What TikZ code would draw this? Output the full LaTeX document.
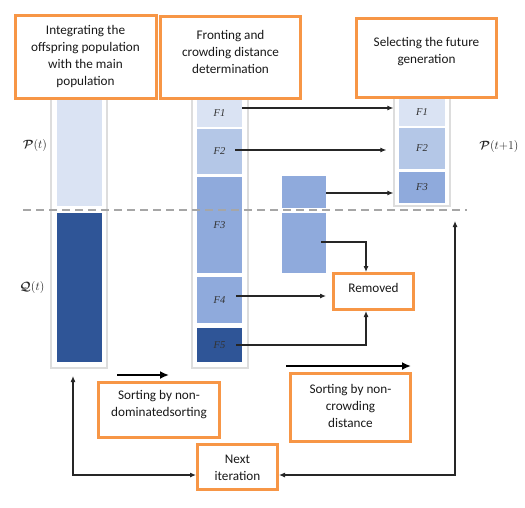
\documentclass[tikz,border=0pt]{standalone}
\usepackage{amsmath}
\usepackage{fontspec}
\setmainfont{Carlito}
\newfontfamily\flabfont{Liberation Serif}
\usetikzlibrary{arrows.meta,calc}
\definecolor{oran}{HTML}{F79646}
\definecolor{blA}{HTML}{DAE3F3}
\definecolor{blB}{HTML}{B4C7E7}
\definecolor{blC}{HTML}{8FAADC}
\definecolor{blD}{HTML}{2F5597}
\definecolor{frm}{HTML}{DDDDDD}
\definecolor{dashg}{HTML}{A6A6A6}
\definecolor{arrc}{HTML}{262626}
\definecolor{labc}{HTML}{333333}
\tikzset{
  obox/.style={draw=oran, line width=3pt, fill=white, inner sep=0pt},
  btext/.style={align=center, font=\fontsize{13.2}{17}\selectfont, text=black!90, inner sep=0pt},
  colframe/.style={draw=frm, line width=1.2pt, fill=white, inner sep=0pt},
  blk/.style={inner sep=0pt, draw=none, font=\flabfont\itshape\fontsize{10.5}{11}\selectfont, text=labc},
  arr/.style={draw=arrc, line width=1.1pt, -{Latex[length=6pt,width=5pt]}},
  arrb/.style={draw=arrc, line width=1.1pt, {Latex[length=6pt,width=5pt]}-{Latex[length=6pt,width=5pt]}},
  thick arr/.style={draw=black, line width=2.5pt, -{Latex[length=9pt,width=8pt]}},
  plab/.style={font=\fontsize{12}{12}\selectfont, text=black!85, inner sep=0pt}
}
\begin{document}
\begin{tikzpicture}[x=1pt,y=-1pt]
\useasboundingbox (0,0) rectangle (525,507);
% column frames
\node[colframe, minimum width=56pt, minimum height=273pt] (c1frame) at (79,231.5) {};
\node[colframe, minimum width=56pt, minimum height=273pt] (c2frame) at (220,231.5) {};
\node[colframe, minimum width=56pt, minimum height=111pt] (c3frame) at (422,150.5) {};
% column 1
\node[blk, fill=blA, minimum width=45pt, minimum height=107pt] (c1p) at (79.5,152.5) {};
\node[blk, fill=blD, minimum width=45pt, minimum height=149pt] (c1q) at (79.5,287.5) {};
% column 2
\node[blk, fill=blA, minimum width=45pt, minimum height=27pt] (c2f1) at (219.5,113.5) {F1};
\node[blk, fill=blB, minimum width=45pt, minimum height=45pt] (c2f2) at (219.5,151.5) {F2};
\node[blk, fill=blC, minimum width=45pt, minimum height=96pt] (c2f3) at (219.5,225) {F3};
\node[blk, fill=blC, minimum width=45pt, minimum height=46pt] (c2f4) at (219.5,300) {F4};
\node[blk, fill=blD, minimum width=45pt, minimum height=34pt] (c2f5) at (219.5,345) {F5};
% column 3
\node[blk, fill=blA, minimum width=46pt, minimum height=27pt] (c3f1) at (422,112.5) {F1};
\node[blk, fill=blB, minimum width=46pt, minimum height=41pt] (c3f2) at (422,148.5) {F2};
\node[blk, fill=blC, minimum width=46pt, minimum height=31pt] (c3f3) at (422,187.5) {F3};
% middle split blocks
\node[blk, fill=blC, minimum width=44pt, minimum height=32pt] (mup) at (304,192) {};
\node[blk, fill=blC, minimum width=44pt, minimum height=60pt] (mlow) at (304,243) {};
% dashed separator
\coordinate (dl) at (23,210);
\coordinate (dr) at (467,210);
\draw[dashg, line width=1.5pt, dash pattern=on 8pt off 5pt] (dl) -- (dr);
% population labels
\node[plab] (lp) at (35,145) {$\boldsymbol{\mathcal{P}}(t)$};
\node[plab] (lq) at (32,287) {$\boldsymbol{\mathcal{Q}}(t)$};
\node[plab] (lp1) at (499,146) {$\boldsymbol{\mathcal{P}}(t{+}1)$};
% orange boxes
\node[obox, minimum width=141pt, minimum height=83pt] (b1) at (85.5,56.5) {};
\node[btext] at (85.5,56.5) {Integrating the\\offspring population\\with the main\\population};
\node[obox, minimum width=140pt, minimum height=82pt] (b2) at (230.5,57.5) {};
\node[btext] at (230.5,51.5) {Fronting and\\crowding distance\\determination};
\node[obox, minimum width=140pt, minimum height=79pt] (b3) at (426.5,58) {};
\node[btext] at (426.5,52) {Selecting the future\\generation};
\node[obox, minimum width=80pt, minimum height=36pt] (rem) at (373.5,291.5) {};
\node[btext] at (373.5,287.5) {Removed};
\node[obox, minimum width=121pt, minimum height=55pt] (s1) at (159,410) {};
\node[btext] at (159,404.5) {Sorting by non-\\dominatedsorting};
\node[obox, minimum width=80pt, minimum height=45pt] (nx) at (237.5,467) {};
\node[btext] at (237.5,467.5) {Next\\iteration};
\node[obox, minimum width=120pt, minimum height=68pt] (s2) at (350.5,407.5) {};
\node[btext] at (350.5,406) {Sorting by non-\\crowding\\distance};
% arrows to next generation
\draw[arr] ([yshift=5.5pt]c2f1.east) -- ([yshift=5.5pt]c2f1.east -| c3frame.west);
\draw[arr] ([xshift=-7pt,yshift=1.5pt]c2f2.east) -- ([xshift=-7pt,yshift=1.5pt]c2f2.east -| c3frame.west);
\draw[arr] ([yshift=-1pt]mup.east) -- ([yshift=-1pt]mup.east -| c3frame.west);
% arrows to removed
\draw[arr] ([xshift=-5pt,yshift=1pt]mlow.east) -| ([xshift=-7.5pt]rem.north);
\draw[arr] ([xshift=-6pt,yshift=4pt]c2f4.east) -- ([xshift=-6pt,yshift=4pt]c2f4.east -| rem.west);
\draw[arr] ([xshift=-6pt]c2f5.east) -| ([xshift=-7.5pt]rem.south);
% thick arrows
\coordinate (t1a) at (117,375);
\coordinate (t1b) at (169,375);
\coordinate (t2a) at (286,366);
\coordinate (t2b) at (411,366);
\draw[thick arr] (t1a) -- (t1b);
\draw[thick arr] (t2a) -- (t2b);
% next iteration loop
\coordinate (lt) at (73,376);
\coordinate (rt) at (455,221);
\draw[arrb] (lt) |- ([yshift=-8pt]nx.west);
\draw[arrb] (rt) |- ([yshift=-8pt]nx.east);
\end{tikzpicture}
\end{document}
